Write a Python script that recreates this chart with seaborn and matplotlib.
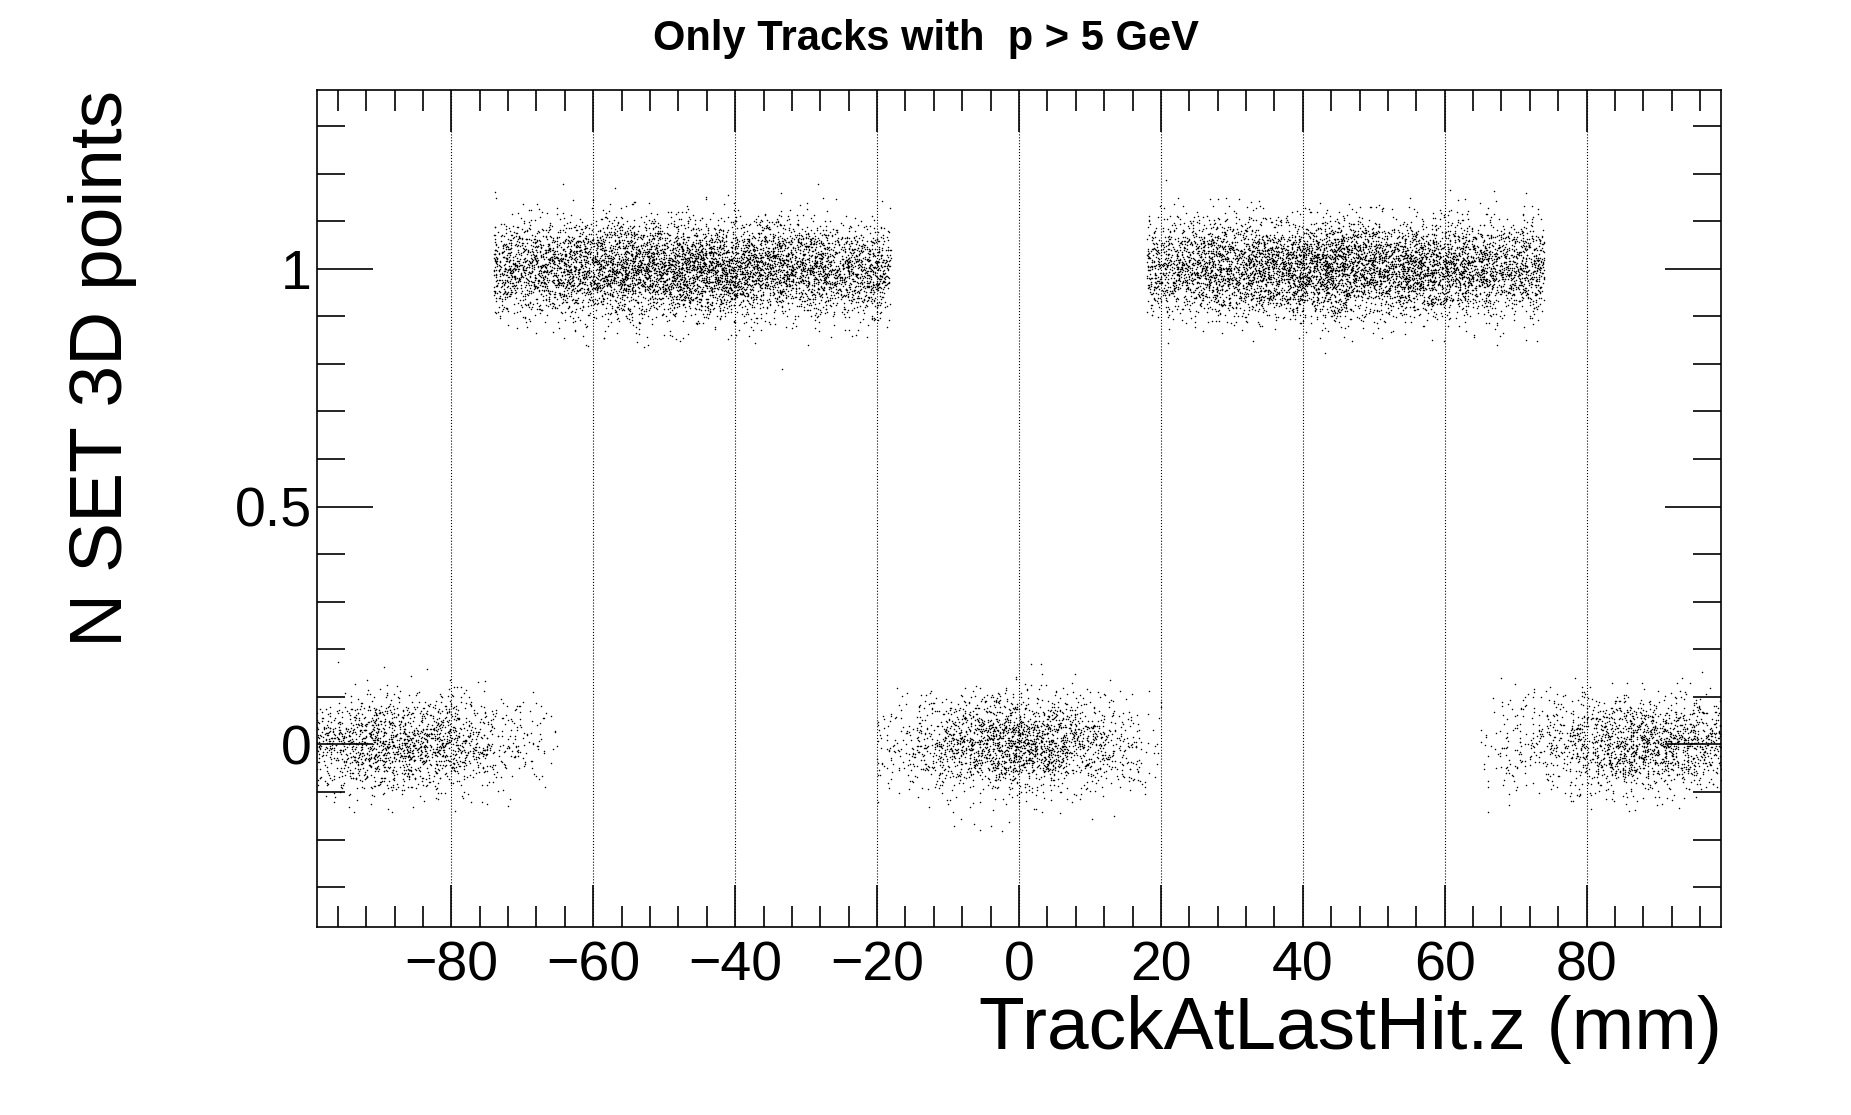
import numpy as np
import pandas as pd
import matplotlib
matplotlib.use("Agg")
import matplotlib.pyplot as plt
import seaborn as sns
from matplotlib.ticker import MultipleLocator

# cluster descriptors
# level of N SET 3D points, z range (mm), z centre, z spread, n points
cl_level = [1, 1, 0, 0, 0]
cl_zlo = [-74, 18, -99, -20, 65]
cl_zhi = [-18, 74, -65, 20, 99]
cl_zmu = [-46, 46, -88, 0, 88]
cl_zsig = [25, 25, 10, 9, 10]
cl_n = [6500, 6500, 1700, 2200, 1700]
y_sigma = 0.05

xticks = [-80, -60, -40, -20, 0, 20, 40, 60, 80]
yticks = [0, 0.5, 1]

rng = np.random.default_rng(7)
rows = []
for lev, lo, hi, mu, sg, n in zip(cl_level, cl_zlo, cl_zhi, cl_zmu, cl_zsig, cl_n):
    z = rng.normal(mu, sg, n * 3)
    z = z[(z > lo) & (z < hi)][:n]
    y = lev + rng.normal(0, y_sigma, len(z))
    rows.append(pd.DataFrame({"z": z, "n": y}))
df = pd.concat(rows)

sns.set_style("white")
plt.rcParams['font.family'] = ['Liberation Sans', 'DejaVu Sans']
plt.rcParams['text.color'] = 'black'
fig = plt.figure(figsize=(18.51, 11.15), dpi=100)
ax = fig.add_axes([0.171, 0.169, 0.759, 0.750])
sns.scatterplot(data=df, x="z", y="n", s=1.2, color="black", linewidth=0, ax=ax)

ax.set_xlim(-99, 99)
ax.set_ylim(-0.383, 1.375)
ax.set_xticks(xticks)
ax.set_xticklabels(["\u2212%d" % -t if t < 0 else str(t) for t in xticks])
ax.set_yticks(yticks)
ax.set_yticklabels(["0", "0.5", "1"])
ax.xaxis.set_minor_locator(MultipleLocator(4))
ax.yaxis.set_minor_locator(MultipleLocator(0.1))
ax.tick_params(which="both", direction="in", top=True, right=True, bottom=True, left=True,
               labelsize=40, width=1.2, color="black", labelcolor="black")
ax.tick_params(axis="x", which="major", length=30)
ax.tick_params(axis="x", which="minor", length=15)
ax.tick_params(axis="y", which="major", length=40)
ax.tick_params(axis="y", which="minor", length=20)
ax.tick_params(axis="x", pad=10)
for sp in ax.spines.values():
    sp.set_linewidth(1.2)
    sp.set_color("black")
ax.xaxis.grid(True, linestyle=":", color="black", linewidth=0.8)
ax.set_xlabel("TrackAtLastHit.z (mm)", fontsize=54, loc="right", labelpad=2, color="black")
ax.set_ylabel("N SET 3D points", fontsize=54, loc="top", labelpad=70, color="black")
fig.text(0.5, 0.965, "Only Tracks with  p > 5 GeV", ha="center", va="center",
         fontsize=30, fontweight="bold", color="black")
fig.savefig("out.png", dpi=100)
